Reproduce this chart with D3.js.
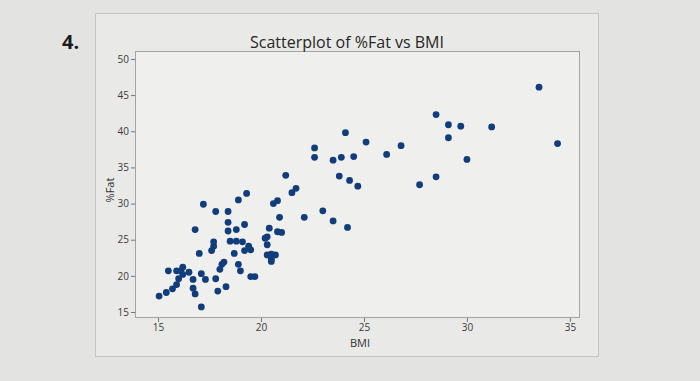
<!DOCTYPE html>
<html>
<head>
<meta charset="utf-8">
<script src="https://cdn.jsdelivr.net/npm/d3@7"></script>
<style>
  html, body { margin: 0; padding: 0; background: #e3e3e1; }
  svg { display: block; font-family: "Open Sans", "Noto Sans", sans-serif; }
</style>
</head>
<body>
<svg id="chart" width="700" height="381"></svg>
<script>
// values, one entry per dot
const bmi = [
  33.5, 28.5, 29.1, 29.7, 31.2, 29.1, 30.0, 34.4, 24.1, 25.1,
  26.8, 26.1, 22.6, 22.6, 23.5, 23.9, 24.5, 23.8, 24.3, 24.7,
  27.7, 28.5, 21.2, 21.7, 21.5, 23.0, 22.1, 23.5, 24.2, 20.9,
  21.0, 20.8, 19.3, 18.9, 17.2, 17.8, 18.4, 20.8, 20.6, 19.2,
  18.4, 16.8, 18.4, 18.8, 20.4, 20.3, 20.2, 20.3, 18.5, 18.8,
  19.1, 19.4, 19.2, 19.5, 17.7, 17.7, 17.6, 18.7, 17.0, 20.3,
  20.5, 20.7, 20.5, 20.5, 18.2, 18.1, 18.0, 18.9, 19.0, 19.5,
  19.7, 16.2, 16.1, 15.9, 15.5, 16.2, 16.5, 17.1, 16.7, 17.3,
  17.8, 16.0, 15.9, 15.7, 15.4, 15.05, 16.7, 16.8, 17.9, 18.3,
  17.1
];
const fat = [
  46.1, 42.3, 40.9, 40.7, 40.6, 39.1, 36.1, 38.3, 39.8, 38.5,
  38.0, 36.8, 37.7, 36.4, 36.0, 36.4, 36.5, 33.8, 33.2, 32.4,
  32.6, 33.7, 33.9, 32.1, 31.5, 29.0, 28.1, 27.6, 26.7, 28.1,
  26.0, 26.1, 31.4, 30.5, 29.9, 28.9, 28.9, 30.4, 30.0, 27.1,
  27.4, 26.4, 26.2, 26.4, 26.6, 25.4, 25.2, 24.3, 24.8, 24.8,
  24.7, 24.1, 23.5, 23.6, 24.7, 24.1, 23.5, 23.1, 23.1, 22.9,
  23.0, 22.9, 22.3, 22.0, 21.9, 21.6, 20.9, 21.6, 20.7, 19.9,
  19.9, 21.2, 20.7, 20.7, 20.7, 20.2, 20.5, 20.3, 19.5, 19.5,
  19.6, 19.6, 18.8, 18.2, 17.7, 17.2, 18.3, 17.5, 17.9, 18.5,
  15.7
];
const xTicks = [15, 20, 25, 30, 35];
const yTicks = [15, 20, 25, 30, 35, 40, 45, 50];

const svg = d3.select("#chart");

// graph panel (Minitab style)
svg.append("rect")
  .attr("x", 95.5).attr("y", 13.5)
  .attr("width", 503).attr("height", 343)
  .attr("fill", "#e9e9e7")
  .attr("stroke", "#c4c4c2");

svg.append("text")
  .attr("x", 62).attr("y", 49)
  .attr("font-size", 20)
  .attr("font-weight", "bold")
  .attr("fill", "#1c1c1c")
  .text("4.");

const x = d3.scaleLinear().domain([13.88, 35.49]).range([135, 580]);
const y = d3.scaleLinear().domain([14.17, 51.1]).range([318, 51]);

// plot area
svg.append("rect")
  .attr("x", 135.5).attr("y", 51.5)
  .attr("width", 444).attr("height", 266)
  .attr("fill", "#efefed")
  .attr("stroke", "#a3a3a1");

const xAxis = svg.append("g")
  .attr("transform", "translate(0,318)")
  .call(d3.axisBottom(x).tickValues(xTicks).tickSize(4).tickPadding(2));
const yAxis = svg.append("g")
  .attr("transform", "translate(135,0)")
  .call(d3.axisLeft(y).tickValues(yTicks).tickSize(4).tickPadding(2));

[xAxis, yAxis].forEach(g => {
  g.select(".domain").remove();
  g.selectAll(".tick line").attr("stroke", "#777");
  g.selectAll(".tick text")
    .attr("fill", "#3a3a3a")
    .attr("font-size", 10)
    .attr("font-family", "\"Open Sans\", sans-serif");
});

// dots
svg.append("g")
  .selectAll("circle")
  .data(bmi.map((b, i) => [b, fat[i]]))
  .join("circle")
  .attr("cx", d => x(d[0]))
  .attr("cy", d => y(d[1]))
  .attr("r", 3.4)
  .attr("fill", "#113d7a");

// titles
svg.append("text")
  .attr("x", 347).attr("y", 48)
  .attr("text-anchor", "middle")
  .attr("font-size", 16)
  .attr("fill", "#262626")
  .text("Scatterplot of %Fat vs BMI");

svg.append("text")
  .attr("x", 360).attr("y", 347)
  .attr("text-anchor", "middle")
  .attr("font-size", 11)
  .attr("fill", "#333")
  .text("BMI");

svg.append("text")
  .attr("transform", "translate(114,190) rotate(-90)")
  .attr("text-anchor", "middle")
  .attr("font-size", 11)
  .attr("fill", "#333")
  .text("%Fat");
</script>
</body>
</html>
